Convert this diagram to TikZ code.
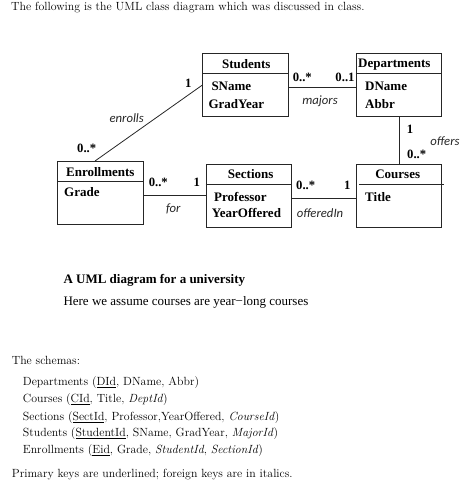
\documentclass[tikz,border=0pt]{standalone}
\usepackage{fontspec}
\newfontfamily\tnr{Liberation Serif}
\newfontfamily\lblfont{Carlito}
\tikzset{
  umlbox/.style={draw=black!85, line width=0.9pt, rectangle, inner sep=0pt, anchor=north west},
  conn/.style={draw=black!85, line width=0.8pt},
  ttl/.style={inner sep=0pt, font=\tnr\bfseries\fontsize{13}{15}\selectfont},
  attr/.style={inner sep=0pt, anchor=west, font=\tnr\bfseries\fontsize{13}{15}\selectfont},
  mult/.style={inner sep=0pt, font=\tnr\bfseries\fontsize{12.7}{15}\selectfont},
  assoc/.style={inner sep=0pt, font=\lblfont\itshape\fontsize{12.7}{15}\selectfont, text=black!85},
  body/.style={inner sep=0pt, anchor=west, font=\fontsize{11.85}{14}\selectfont},
}
\begin{document}
\begin{tikzpicture}[x=1pt,y=-1pt]
\useasboundingbox (0,0) rectangle (464,488);
% top sentence
\node[body] (intro) at (11,7.3) {The following is the UML class diagram which was discussed in class.};
% boxes
\node[umlbox, minimum width=85.4pt, minimum height=62.7pt] (students) at (202.3,53.3) {};
\node[umlbox, minimum width=85.3pt, minimum height=62.7pt] (departments) at (355.7,53.3) {};
\node[umlbox, minimum width=85.4pt, minimum height=62.7pt] (enrollments) at (57.3,161) {};
\node[umlbox, minimum width=85pt, minimum height=62.4pt] (sections) at (205.7,164.3) {};
\node[umlbox, minimum width=85.3pt, minimum height=62.4pt] (courses) at (355.7,164.3) {};
% header lines
\draw[conn] (students.west |- 0,73.3) -- (students.east |- 0,73.3);
\draw[conn] (departments.west |- 0,73.3) -- (departments.east |- 0,73.3);
\draw[conn] (enrollments.west |- 0,181.7) -- (enrollments.east |- 0,181.7);
\draw[conn] (sections.west |- 0,184) -- (sections.east |- 0,184);
\coordinate (chl) at (359,184);
\coordinate (chr) at (444,184);
\draw[conn] (chl) -- (chr);
% titles
\node[ttl] (tstud) at (246.3,64.3) {Students};
\node[ttl] (tdept) at (394.3,64.3) {Departments};
\node[ttl] (tenr) at (100.3,171.7) {Enrollments};
\node[ttl] (tsec) at (250.7,174.3) {Sections};
\node[ttl] (tcou) at (397.7,174.3) {Courses};
% attributes
\node[attr] (asname) at (211.3,86.7) {SName};
\node[attr] (agrad) at (208.3,104) {GradYear};
\node[attr] (adname) at (365,86.7) {DName};
\node[attr] (aabbr) at (365,104) {Abbr};
\node[attr] (agrade) at (64,191.7) {Grade};
\node[attr] (aprof) at (214,196.7) {Professor};
\node[attr] (ayear) at (211.7,213.3) {YearOffered};
\node[attr] (atitle) at (365,196.7) {Title};
% connectors
\coordinate (enrtop) at (95,161);
\draw[conn] (students.west) -- (enrtop);
\draw[conn] (students.east |- 0,87.7) -- (departments.west |- 0,87.7);
\draw[conn] (departments.south -| 399,0) -- (courses.north -| 399,0);
\draw[conn] (enrollments.east |- 0,195.7) -- (sections.west |- 0,195.7);
\draw[conn] (sections.east |- 0,198.3) -- (courses.west |- 0,198.3);
% multiplicities
\node[mult] (m1) at (188.3,83.3) {1};
\node[mult] (m2) at (86.7,148.3) {0..*};
\node[mult] (m3) at (302.3,77.7) {0..*};
\node[mult] (m4) at (345,77.7) {0..1};
\node[mult] (m5) at (410,129) {1};
\node[mult] (m6) at (416.7,154.3) {0..*};
\node[mult] (m7) at (158.3,182.3) {0..*};
\node[mult] (m8) at (196.7,182.3) {1};
\node[mult] (m9) at (305.7,185) {0..*};
\node[mult] (m10) at (347.3,185) {1};
% association names
\node[assoc] (lenr) at (126.7,118.3) {enrolls};
\node[assoc] (lmaj) at (320,101) {majors};
\node[assoc] (loff) at (445,141) {offers};
\node[assoc] (lfor) at (173.3,209.3) {for};
\node[assoc] (loffin) at (320,213.3) {offeredIn};
% caption
\node[inner sep=0pt, anchor=west, font=\tnr\bfseries\fontsize{13}{15}\selectfont] (cap1) at (63.3,280.7) {A UML diagram for a university};
\node[inner sep=0pt, anchor=west, font=\tnr\fontsize{13}{15}\selectfont] (cap2) at (63.3,302.7) {Here we assume courses are year−long courses};
% schemas
\node[body] (sch) at (11.7,360.7) {The schemas:};
\node[body] (s1) at (22.7,382.7) {Departments (\underline{DId}, DName, Abbr)};
\node[body] (s2) at (22.7,400) {Courses (\underline{CId}, Title, \textit{DeptId})};
\node[body] (s3) at (22.7,417.3) {Sections (\underline{SectId}, Professor,YearOffered, \textit{CourseId})};
\node[body] (s4) at (22.7,434) {Students (\underline{StudentId}, SName, GradYear, \textit{MajorId})};
\node[body] (s5) at (22.7,450.7) {Enrollments (\underline{Eid}, Grade, \textit{StudentId}, \textit{SectionId})};
\node[body] (fin) at (11.7,475) {Primary keys are underlined; foreign keys are in italics.};
\end{tikzpicture}
\end{document}
